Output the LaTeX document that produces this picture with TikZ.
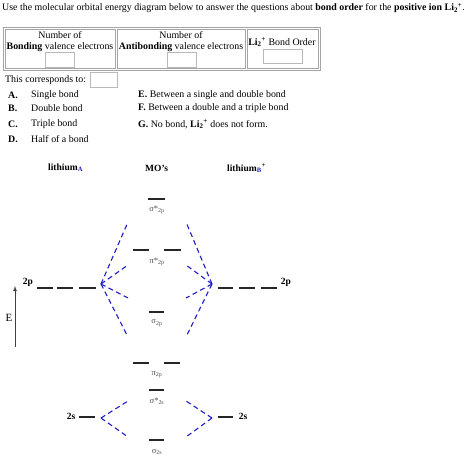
\documentclass[tikz,border=0pt]{standalone}
\usepackage{fontspec}
\setmainfont{Liberation Serif}
\definecolor{mob}{RGB}{30,30,200}
\definecolor{cellg}{RGB}{165,165,165}
\definecolor{boxg}{RGB}{185,185,185}
\begin{document}
\begin{tikzpicture}[x=1pt,y=-1pt,
  txt/.style={inner sep=0pt,font=\fontsize{9.9}{12}\selectfont},
  cell/.style={draw=cellg,line width=0.8pt},
  inbox/.style={draw=boxg,line width=0.8pt,fill=white},
  lvl/.style={line width=1.3pt,black!85},
  mo/.style={draw=mob,dashed,line width=1.1pt,dash pattern=on 5pt off 3.5pt},
  mol/.style={inner sep=0pt,text=black!70,font=\fontsize{8.5}{10}\selectfont},
  hd/.style={inner sep=0pt,font=\fontsize{9.5}{11}\selectfont\bfseries},
  lab/.style={inner sep=0pt,font=\fontsize{9.5}{11}\selectfont\bfseries}]
\useasboundingbox (0,0) rectangle (474,458);
\fill[white] (0,0) rectangle (474,458);
% title
\node[txt,anchor=west] (title) at (2,8) {Use the molecular orbital energy diagram below to answer the questions about \textbf{bond order} for the \textbf{positive ion Li\textsubscript{2}\textsuperscript{+}}.};
% table
\draw[draw=cellg,line width=1pt] (3,27) rectangle (320,70);
\draw[cell] (5,29) rectangle (115,68);
\draw[cell] (117,29) rectangle (245,68);
\draw[cell] (247,29) rectangle (318,68);
\node[txt] (c1a) at (60,35) {Number of};
\node[txt] (c1b) at (60,47) {\textbf{Bonding} valence electrons};
\draw[inbox] (45,52) rectangle (74,67);
\node[txt] (c2a) at (181,35) {Number of};
\node[txt] (c2b) at (181,47) {\textbf{Antibonding} valence electrons};
\draw[inbox] (167,52) rectangle (196,67);
\node[txt] (c3a) at (282,42) {\textbf{Li\textsubscript{2}\textsuperscript{+}} Bond Order};
\draw[inbox] (263,49) rectangle (302,63);
% corresponds
\node[txt,anchor=west] (corr) at (5,80) {This corresponds to:};
\draw[inbox] (90,72) rectangle (117,87);
\node[txt,anchor=west] (oA) at (8,95) {\textbf{A.}};
\node[txt,anchor=west] (tA) at (31,95) {Single bond};
\node[txt,anchor=west] (oB) at (8,108) {\textbf{B.}};
\node[txt,anchor=west] (tB) at (31,108) {Double bond};
\node[txt,anchor=west] (oC) at (8,124) {\textbf{C.}};
\node[txt,anchor=west] (tC) at (31,124) {Triple bond};
\node[txt,anchor=west] (oD) at (8,139) {\textbf{D.}};
\node[txt,anchor=west] (tD) at (31,139) {Half of a bond};
\node[txt,anchor=west] (oE) at (138,95) {\textbf{E.} Between a single and double bond};
\node[txt,anchor=west] (oF) at (138,108) {\textbf{F.} Between a double and a triple bond};
\node[txt,anchor=west] (oG) at (138,124) {\textbf{G.} No bond, \textbf{Li\textsubscript{2}\textsuperscript{+}} does not form.};
% headers
\node[hd,anchor=west] (liA) at (48,168) {lithium\textcolor{mob}{\textsubscript{A}}};
\node[hd,anchor=west] (mos) at (145,168) {MO's};
\node[hd,anchor=west] (liB) at (227,168) {lithium\textcolor{mob}{\textsubscript{B}}\textsuperscript{+}};
% MO levels
\draw[lvl] (148,199) -- (165,199);
\node[mol] (ls2ps) at (157,210) {σ*\textsubscript{2p}};
\draw[lvl] (133,250) -- (149,250);
\draw[lvl] (164,250) -- (181,250);
\node[mol] (lp2ps) at (157,262) {π*\textsubscript{2p}};
\draw[lvl] (149,312) -- (164,312);
\node[mol] (ls2p) at (157,323) {σ\textsubscript{2p}};
\draw[lvl] (133,363) -- (149,363);
\draw[lvl] (164,363) -- (180,363);
\node[mol] (lp2p) at (157,375) {π\textsubscript{2p}};
\draw[lvl] (149,390) -- (164,390);
\node[mol] (ls2ss) at (157,401) {σ*\textsubscript{2s}};
\draw[lvl] (149,440) -- (164,440);
\node[mol] (ls2s) at (157,452) {σ\textsubscript{2s}};
% atomic levels
\node[lab] (l2p) at (28,282) {2p};
\draw[lvl] (37,288) -- (53,288);
\draw[lvl] (57,288) -- (73,288);
\draw[lvl] (79,288) -- (96,288);
\node[lab] (r2p) at (286,282) {2p};
\draw[lvl] (218,288) -- (233,288);
\draw[lvl] (239,288) -- (255,288);
\draw[lvl] (261,288) -- (277,288);
\node[lab] (l2s) at (71,416) {2s};
\draw[lvl] (79,417) -- (95,417);
\node[lab] (r2s) at (243,416) {2s};
\draw[lvl] (218,417) -- (233,417);
% connector coordinates
\coordinate (PL) at (101,284);
\coordinate (PR) at (212,284);
\coordinate (SL) at (101,418);
\coordinate (SR) at (212,418);
\coordinate (aL1) at (128,222);
\coordinate (aL2) at (128,265);
\coordinate (aL3) at (128,298);
\coordinate (aL4) at (128,337);
\coordinate (aR1) at (186,222);
\coordinate (aR2) at (186,265);
\coordinate (aR3) at (186,298);
\coordinate (aR4) at (186,337);
\coordinate (bL1) at (128,401);
\coordinate (bL2) at (128,437);
\coordinate (bR1) at (186,401);
\coordinate (bR2) at (186,437);
\foreach \e in {aL1,aL2,aL3,aL4} \draw[mo] (PL) -- (\e);
\foreach \e in {aR1,aR2,aR3,aR4} \draw[mo] (PR) -- (\e);
\foreach \e in {bL1,bL2} \draw[mo] (SL) -- (\e);
\foreach \e in {bR1,bR2} \draw[mo] (SR) -- (\e);
% energy axis
\coordinate (Ebot) at (15,347);
\coordinate (Etop) at (15,286);
\draw[-latex,line width=0.8pt,black!75] (Ebot) -- (Etop);
\node[txt,font=\fontsize{11}{13}\selectfont] (E) at (9,318) {E};
\end{tikzpicture}
\end{document}
